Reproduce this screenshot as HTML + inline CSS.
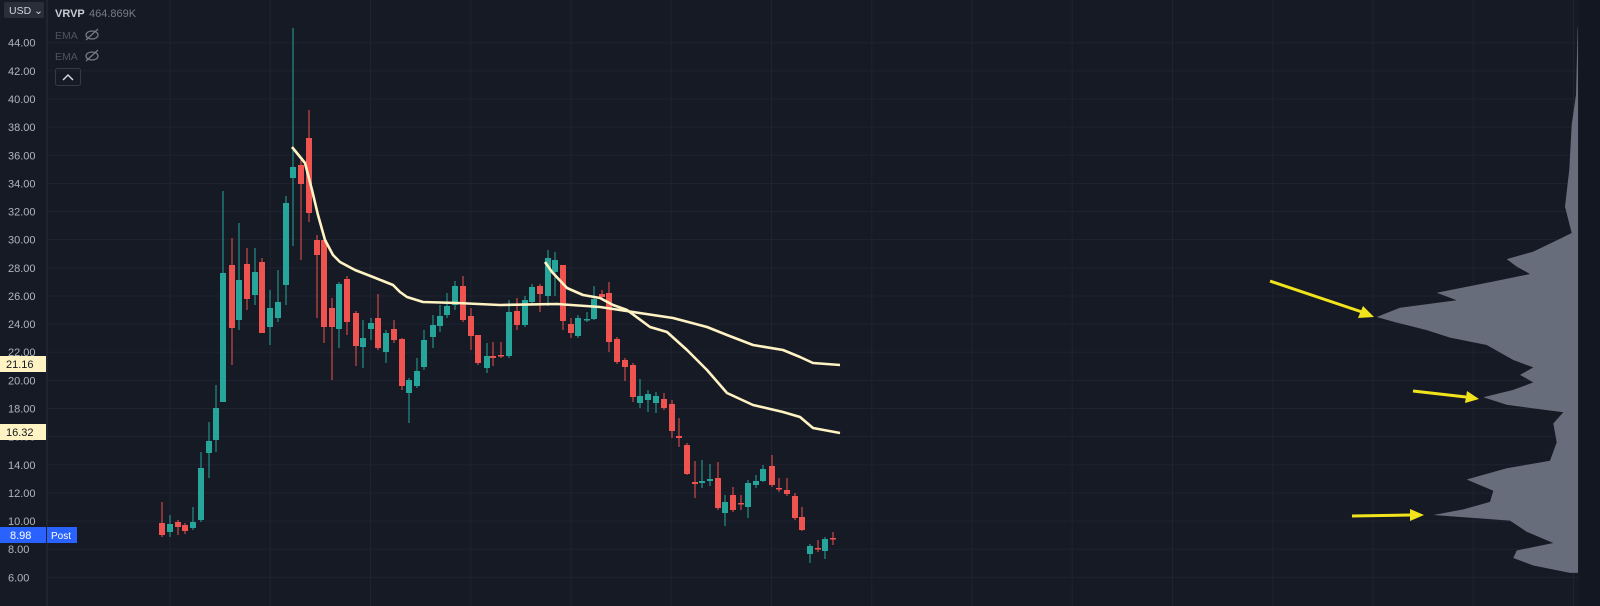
<!DOCTYPE html>
<html><head><meta charset="utf-8"><style>
html,body{margin:0;padding:0;background:#161a25;}
body{width:1600px;height:606px;overflow:hidden;font-family:"Liberation Sans",sans-serif;}
svg{display:block}
</style></head><body>
<svg id="s" width="1600" height="606" xmlns="http://www.w3.org/2000/svg">
<rect width="1600" height="606" fill="#161a25"/>
<rect x="1579" y="0" width="21" height="606" fill="#131722"/>
<g id="grid"></g>
<g id="prof"></g>
<g id="candles"></g>
<polyline fill="none" stroke="#fff3c4" stroke-width="2.6" stroke-linejoin="round" points="292,147 305,163 312,190 318,215 325,240 333,255 340,262 355,270 373,277 393,285 400,292 407,297 423,302 457,303 500,305 557,304 600,307 633,312 673,318 707,327 727,335 753,345 783,350 800,357 813,363 840,365"/>
<polyline fill="none" stroke="#fff3c4" stroke-width="2.6" stroke-linejoin="round" points="545,262 552,272 567,288 583,295 600,298 613,305 627,310 650,327 667,332 687,350 707,370 727,393 753,405 783,412 800,417 813,428 840,433"/>
<g stroke="#f2e41c" stroke-width="3" fill="#f2e41c">
<line x1="1270" y1="281" x2="1362" y2="312"/>
<polygon points="1374,317 1358,318 1363,306" stroke="none"/>
<line x1="1413" y1="391" x2="1466" y2="397"/>
<polygon points="1479,399 1465,403 1467,391" stroke="none"/>
<line x1="1352" y1="516" x2="1410" y2="515"/>
<polygon points="1424,515 1410,521 1410,509" stroke="none"/>
</g>
<rect x="0" y="0" width="47" height="606" fill="#161a25"/>
<line x1="47" y1="0" x2="47" y2="606" stroke="#2a2e39" stroke-width="1"/>
<g id="axis" font-size="11" fill="#b2b5be"></g>
<rect x="4" y="2" width="40" height="16" rx="2" fill="#2a2e39"/>
<text x="9" y="14" font-size="10.5" fill="#d1d4dc">USD ⌄</text>
<text x="55" y="17" font-size="11" font-weight="bold" fill="#c8cbd3">VRVP</text>
<text x="89" y="17" font-size="11" fill="#787b86">464.869K</text>
<text x="55" y="39" font-size="10.5" fill="#50535e">EMA</text>
<text x="55" y="60" font-size="10.5" fill="#50535e">EMA</text>
<g stroke="#787b86" stroke-width="1.2" fill="none">
<ellipse cx="92" cy="35" rx="6" ry="4"/><line x1="86" y1="40" x2="98" y2="29"/>
<ellipse cx="92" cy="56" rx="6" ry="4"/><line x1="86" y1="61" x2="98" y2="50"/>
</g>
<rect x="55.5" y="68.5" width="25" height="17" rx="2" fill="none" stroke="#363a45"/>
<polyline points="63,80 68,75 73,80" fill="none" stroke="#d1d4dc" stroke-width="1.5"/>
<rect x="0" y="356" width="46" height="16" fill="#fff3c4"/>
<text x="6" y="368" font-size="11" fill="#131722">21.16</text>
<rect x="0" y="424" width="46" height="16" fill="#fff3c4"/>
<text x="6" y="436" font-size="11" fill="#131722">16.32</text>
<rect x="0" y="527" width="46" height="16" fill="#2962ff"/>
<text x="10" y="539" font-size="11" fill="#fff">8.98</text>
<rect x="47" y="527" width="30" height="16" fill="#2962ff"/>
<text x="51" y="539" font-size="10" fill="#fff">Post</text>
</svg>
<script>
const NS="http://www.w3.org/2000/svg";
function el(t,a,p){const e=document.createElementNS(NS,t);for(const k in a)e.setAttribute(k,a[k]);p.appendChild(e);return e;}
const Y=p=>42.7+(44-p)*14.07;
const g=document.getElementById('grid'),ax=document.getElementById('axis');
for(let p=44;p>=6;p-=2){const y=Y(p);el('line',{x1:47,x2:1579,y1:y,y2:y,stroke:'#1f2330','stroke-width':1},g);
const t=el('text',{x:8,y:y+4},ax);t.textContent=p.toFixed(2);}
for(let k=0;k<15;k++){const x=170+100.25*k;el('line',{x1:x,x2:x,y1:0,y2:606,stroke:'#1f2330','stroke-width':1},g);}
const pts=[[833,20],[828,200],[815,280],[808,400],[795,500],[815,570],[770,590],[700,620],[620,640],[650,660],[690,680],[580,700],[410,730],[470,750],[300,770],[230,795],[290,810],[380,830],[450,850],[560,870],[600,890],[640,910],[700,930],[660,950],[700,970],[640,990],[550,1010],[620,1030],[790,1050],[760,1080],[770,1130],[750,1180],[620,1200],[500,1230],[580,1260],[570,1290],[490,1310],[400,1325],[630,1340],[680,1370],[760,1400],[650,1420],[640,1440],[700,1460],[810,1480],[835,1480]];
let d=`M1578,${20+20*0.3736} `;
pts.forEach(([zx,zy])=>{d+=`L${(1300+zx/3).toFixed(1)},${(20+zy*0.3736).toFixed(1)} `;});
d+=`L1578,${20+1480*0.3736} Z`;
el('path',{d:d,fill:'#686d7b'},document.getElementById('prof'));
const C=[[162,523,535,502,537,'r'],[170,524,532,515,537,'g'],[178,522,527,520,535,'r'],[185,525,531,523,534,'r'],[193,522,528,507,530,'g'],[201,468,520,452,522,'g'],[209,441,453,422,478,'g'],[216,408,440,385,452,'g'],[223,273,402,191,402,'g'],[232,265,328,238,365,'r'],[239,280,320,223,330,'g'],[247,264,299,248,310,'r'],[255,272,295,248,305,'g'],[262,262,333,258,333,'r'],[270,308,327,290,345,'g'],[278,302,318,270,322,'g'],[286,203,285,196,305,'g'],[293,167,178,28,246,'g'],[301,165,184,160,260,'r'],[309,138,213,110,222,'r'],[317,240,255,235,318,'r'],[324,240,327,240,343,'r'],[332,308,327,298,380,'r'],[339,284,329,282,348,'g'],[347,279,322,276,335,'r'],[356,313,346,311,366,'r'],[363,338,347,320,368,'g'],[371,323,329,318,340,'g'],[378,318,348,294,350,'r'],[386,333,352,330,363,'g'],[394,329,340,320,343,'r'],[402,339,386,338,390,'r'],[409,380,393,378,423,'g'],[417,371,386,358,388,'g'],[424,340,367,330,370,'g'],[433,325,337,315,348,'g'],[440,316,326,305,332,'g'],[447,306,315,293,318,'g'],[455,286,305,281,310,'g'],[463,286,320,276,322,'r'],[471,316,336,308,350,'r'],[478,335,363,335,365,'r'],[487,356,368,343,373,'g'],[493,356,358,342,366,'r'],[501,355,356,342,358,'r'],[509,312,356,300,358,'g'],[517,311,325,298,330,'r'],[525,300,325,296,327,'g'],[532,287,302,284,305,'g'],[540,286,294,284,312,'r'],[548,258,296,250,306,'g'],[555,260,272,252,296,'g'],[563,265,321,265,330,'r'],[571,324,333,318,338,'r'],[578,318,336,315,338,'g'],[587,319,320,312,322,'g'],[594,299,319,286,320,'g'],[602,294,297,290,298,'r'],[609,293,342,282,352,'r'],[617,339,362,337,364,'r'],[625,360,367,358,381,'r'],[633,365,397,363,402,'r'],[640,396,403,379,408,'g'],[648,394,400,390,412,'g'],[656,396,403,392,413,'g'],[664,399,408,393,410,'r'],[672,404,431,400,438,'r'],[679,436,438,418,447,'r'],[687,445,474,443,475,'r'],[695,482,484,461,498,'r'],[702,481,483,460,488,'g'],[710,479,481,464,486,'g'],[718,478,508,462,510,'r'],[725,502,513,495,526,'g'],[733,495,510,487,512,'r'],[741,503,504,495,510,'r'],[748,483,507,480,518,'g'],[756,481,485,475,488,'g'],[763,469,481,465,482,'g'],[772,466,485,455,487,'r'],[779,488,489,478,492,'r'],[787,490,494,478,496,'r'],[795,496,518,493,520,'r'],[802,517,530,507,531,'r'],[810,546,554,544,563,'g'],[818,548,549,540,552,'r'],[825,539,551,537,559,'g'],[833,538,539,532,545,'r']];
const cg=document.getElementById('candles');
C.forEach(([x,t,b,h,l,c])=>{const col=c==='g'?'#26a69a':'#ef5350';
el('line',{x1:x,x2:x,y1:h,y2:l,stroke:col,'stroke-width':1},cg);
el('rect',{x:x-3,y:t,width:6,height:Math.max(1.5,b-t),fill:col},cg);});
</script>
</body></html>
